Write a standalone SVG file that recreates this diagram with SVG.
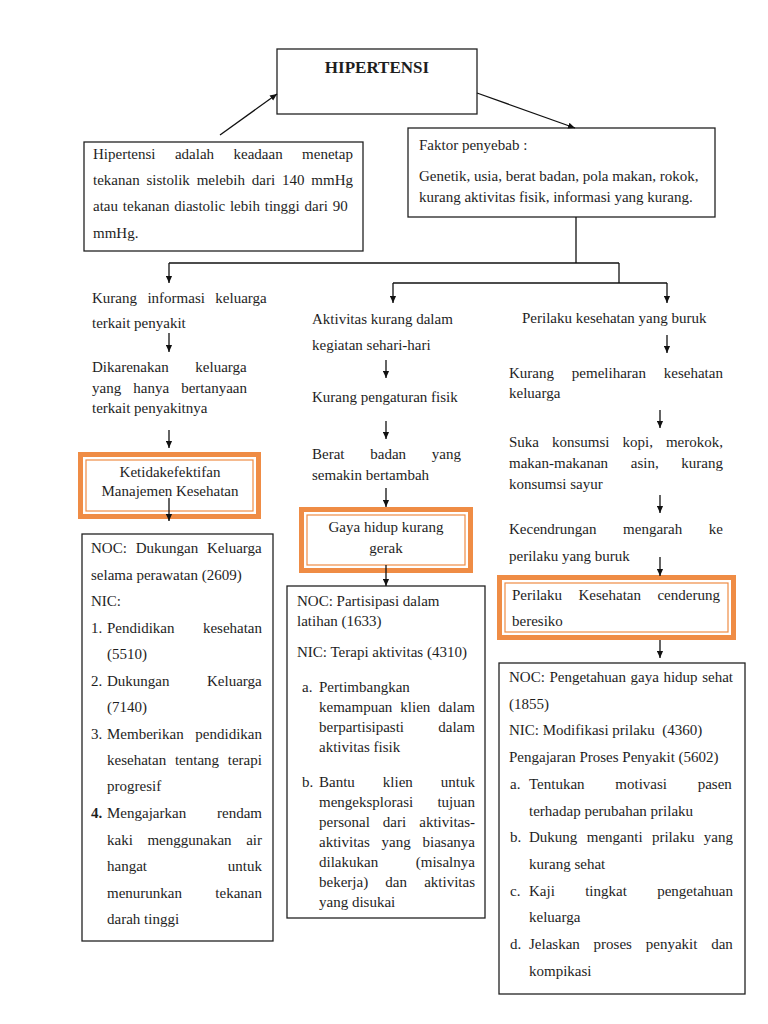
<svg xmlns="http://www.w3.org/2000/svg" width="768" height="1024" viewBox="0 0 768 1024">
<defs>
<style>
text{font-family:"Liberation Serif","Times New Roman",serif;font-size:15px;fill:#1e1e1e}
.b{font-weight:bold}
.title{font-weight:bold;font-size:17px}
.c{text-anchor:middle}
.box{fill:#fff;stroke:#222;stroke-width:1.3}
.ob{fill:#fff;stroke:#EF8C45;stroke-width:5}
.oi{fill:none;stroke:#EF8C45;stroke-width:1.2}
.ln{stroke:#111;stroke-width:1.3;fill:none}
.ar{stroke:#111;stroke-width:1.3;fill:none;marker-end:url(#ah)}
</style>
<marker id="ah" viewBox="0 0 8 8" refX="8" refY="4" markerWidth="7" markerHeight="7" markerUnits="userSpaceOnUse" orient="auto">
<path d="M0,0.5 L8,4 L0,7.5 z" fill="#111"/>
</marker>
</defs>
<rect width="768" height="1024" fill="#fff"/>

<g id="n-hipertensi">
<rect class="box" x="277" y="49" width="200" height="65"/>
<text class="title c" x="377" y="73">HIPERTENSI</text>
</g>

<g id="n-definisi">
<rect class="box" x="84" y="142" width="279" height="109"/>
<text x="93" y="159" style="word-spacing:15.7px">Hipertensi adalah keadaan menetap</text>
<text x="93" y="185" style="word-spacing:3.1px">tekanan sistolik melebih dari 140 mmHg</text>
<text x="93" y="211" style="word-spacing:1.07px">atau tekanan diastolic lebih tinggi dari 90</text>
<text x="93" y="238">mmHg.</text>
</g>

<g id="n-faktor">
<rect class="box" x="408" y="128" width="307" height="89"/>
<text x="419" y="150">Faktor penyebab :</text>
<text x="419" y="181">Genetik, usia, berat badan, pola makan, rokok,</text>
<text x="419" y="202">kurang aktivitas fisik, informasi yang kurang.</text>
</g>

<g id="n-kurang-info">
<text x="92" y="303" style="word-spacing:6.7px">Kurang informasi keluarga</text>
<text x="92" y="328">terkait penyakit</text>
</g>
<g id="n-dikarenakan">
<text x="92" y="372" style="word-spacing:22.95px">Dikarenakan keluarga</text>
<text x="92" y="393" style="word-spacing:8.35px">yang hanya bertanyaan</text>
<text x="92" y="413">terkait penyakitnya</text>
</g>
<g id="n-ketidakefektifan">
<rect class="ob" x="80.5" y="454.5" width="178" height="62"/>
<rect class="oi" x="86" y="460" width="167" height="51"/>
<text class="c" x="170" y="477">Ketidakefektifan</text>
<text class="c" x="170" y="496">Manajemen Kesehatan</text>
</g>
<g id="n-noc-kiri">
<rect class="box" x="82" y="534" width="191" height="407"/>
<text x="91" y="553" style="word-spacing:5.1px">NOC: Dukungan Keluarga</text>
<text x="91" y="580">selama perawatan (2609)</text>
<text x="91" y="606">NIC:</text>
<text x="91" y="633">1.</text>
<text x="107" y="633" style="word-spacing:24.65px">Pendidikan kesehatan</text>
<text x="107" y="659">(5510)</text>
<text x="91" y="686">2.</text>
<text x="107" y="686" style="word-spacing:33.75px">Dukungan Keluarga</text>
<text x="107" y="712">(7140)</text>
<text x="91" y="739">3.</text>
<text x="107" y="739" style="word-spacing:7.95px">Memberikan pendidikan</text>
<text x="107" y="765" style="word-spacing:5px">kesehatan tentang terapi</text>
<text x="107" y="791">progresif</text>
<text class="b" x="91" y="818">4.</text>
<text x="107" y="818" style="word-spacing:27.15px">Mengajarkan rendam</text>
<text x="107" y="845" style="word-spacing:10.85px">kaki menggunakan air</text>
<text x="107" y="871" style="word-spacing:77px">hangat untuk</text>
<text x="107" y="898" style="word-spacing:29.6px">menurunkan tekanan</text>
<text x="107" y="924">darah tinggi</text>
</g>

<g id="n-aktivitas">
<text x="312" y="324">Aktivitas kurang dalam</text>
<text x="312" y="350">kegiatan sehari-hari</text>
</g>
<g id="n-pengaturan">
<text x="312" y="402">Kurang pengaturan fisik</text>
</g>
<g id="n-berat">
<text x="312" y="459" style="word-spacing:22px">Berat badan yang</text>
<text x="312" y="480">semakin bertambah</text>
</g>
<g id="n-gaya-hidup">
<rect class="ob" x="301.5" y="509.5" width="169" height="61"/>
<rect class="oi" x="307" y="515" width="158" height="50"/>
<text class="c" x="386" y="532">Gaya hidup kurang</text>
<text class="c" x="386" y="553">gerak</text>
</g>
<g id="n-noc-tengah">
<rect class="box" x="287" y="586" width="198" height="332"/>
<text x="297" y="606">NOC: Partisipasi dalam</text>
<text x="297" y="626">latihan (1633)</text>
<text x="297" y="657">NIC: Terapi aktivitas (4310)</text>
<text x="302" y="692">a.</text>
<text x="319" y="692">Pertimbangkan</text>
<text x="319" y="712" style="word-spacing:4.25px">kemampuan klien dalam</text>
<text x="319" y="732" style="word-spacing:30.55px">berpartisipasti dalam</text>
<text x="319" y="752">aktivitas fisik</text>
<text x="302" y="787">b.</text>
<text x="319" y="787" style="word-spacing:24.25px">Bantu klien untuk</text>
<text x="319" y="807" style="word-spacing:20.55px">mengeksplorasi tujuan</text>
<text x="319" y="827" style="word-spacing:9.3px">personal dari aktivitas-</text>
<text x="319" y="847" style="word-spacing:8px">aktivitas yang biasanya</text>
<text x="319" y="867" style="word-spacing:33.85px">dilakukan (misalnya</text>
<text x="319" y="887" style="word-spacing:13.45px">bekerja) dan aktivitas</text>
<text x="319" y="907">yang disukai</text>
</g>

<g id="n-perilaku">
<text x="522" y="323">Perilaku kesehatan yang buruk</text>
</g>
<g id="n-pemeliharan">
<text x="509" y="378" style="word-spacing:14.1px">Kurang pemeliharan kesehatan</text>
<text x="509" y="398">keluarga</text>
</g>
<g id="n-konsumsi">
<text x="509" y="447" style="word-spacing:9.25px">Suka konsumsi kopi, merokok,</text>
<text x="509" y="468" style="word-spacing:18.9px">makan-makanan asin, kurang</text>
<text x="509" y="489">konsumsi sayur</text>
</g>
<g id="n-kecendrungan">
<text x="509" y="534" style="word-spacing:22.85px">Kecendrungan mengarah ke</text>
<text x="509" y="561">perilaku yang buruk</text>
</g>
<g id="n-beresiko">
<rect class="ob" x="499.5" y="577.5" width="234" height="60"/>
<rect class="oi" x="505" y="583" width="223" height="49"/>
<text x="512" y="600" style="word-spacing:12.75px">Perilaku Kesehatan cenderung</text>
<text x="512" y="626">beresiko</text>
</g>
<g id="n-noc-kanan">
<rect class="box" x="499" y="663" width="246" height="331"/>
<text x="509" y="682" style="word-spacing:0.8px">NOC: Pengetahuan gaya hidup sehat</text>
<text x="509" y="709">(1855)</text>
<text x="509" y="735" xml:space="preserve">NIC: Modifikasi prilaku  (4360)</text>
<text x="509" y="762">Pengajaran Proses Penyakit (5602)</text>
<text x="510" y="789">a.</text>
<text x="529" y="789" style="word-spacing:26.95px">Tentukan motivasi pasen</text>
<text x="529" y="816">terhadap perubahan prilaku</text>
<text x="510" y="842">b.</text>
<text x="529" y="842" style="word-spacing:5.65px">Dukung menganti prilaku yang</text>
<text x="529" y="869">kurang sehat</text>
<text x="510" y="896">c.</text>
<text x="529" y="896" style="word-spacing:26.6px">Kaji tingkat pengetahuan</text>
<text x="529" y="922">keluarga</text>
<text x="510" y="949">d.</text>
<text x="529" y="949" style="word-spacing:10.05px">Jelaskan proses penyakit dan</text>
<text x="529" y="976">kompikasi</text>
</g>

<g id="connectors">
<line class="ar" x1="220" y1="135" x2="277" y2="94"/>
<line class="ar" x1="477" y1="93" x2="575" y2="128"/>
<line class="ln" x1="576" y1="217" x2="576" y2="263"/>
<line class="ln" x1="169" y1="263" x2="619" y2="263"/>
<line class="ar" x1="169" y1="263" x2="169" y2="283"/>
<line class="ln" x1="619" y1="263" x2="619" y2="283"/>
<line class="ln" x1="393" y1="283" x2="667" y2="283"/>
<line class="ar" x1="393" y1="283" x2="393" y2="303"/>
<line class="ar" x1="667" y1="283" x2="667" y2="303"/>
<line class="ar" x1="169" y1="333" x2="169" y2="352"/>
<line class="ar" x1="169" y1="430" x2="169" y2="448"/>
<line class="ar" x1="169" y1="498" x2="169" y2="521"/>
<line class="ar" x1="386" y1="360" x2="386" y2="378"/>
<line class="ar" x1="386" y1="421" x2="386" y2="439"/>
<line class="ar" x1="386" y1="488" x2="386" y2="507"/>
<line class="ar" x1="386" y1="565" x2="386" y2="586"/>
<line class="ar" x1="667" y1="335" x2="667" y2="353"/>
<line class="ar" x1="660" y1="410" x2="660" y2="428"/>
<line class="ar" x1="660" y1="495" x2="660" y2="513"/>
<line class="ar" x1="660" y1="557" x2="660" y2="576"/>
<line class="ar" x1="660" y1="640" x2="660" y2="658"/>
</g>
</svg>
